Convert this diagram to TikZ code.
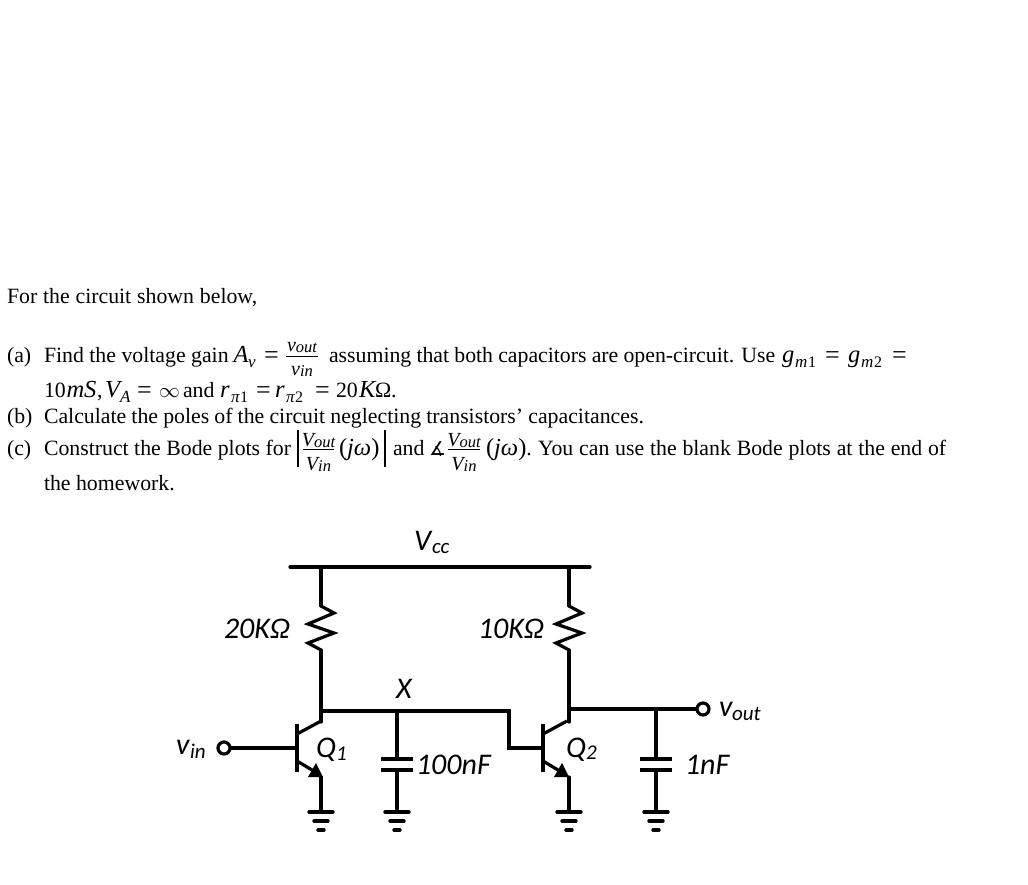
\documentclass[tikz,border=0pt]{standalone}
\usepackage{fontspec}
\setmainfont{Liberation Serif}
\newfontfamily\lab{Carlito}
\newfontfamily\sym{DejaVu Sans}
\newcommand{\fsub}[1]{\raisebox{-1.5pt}{\fontsize{16.5}{18}\selectfont #1}}
\tikzset{
  x=1pt,y=-1pt,
  wire/.style={line width=3.2pt,line cap=round,line join=miter,black},
  txt/.style={inner sep=0pt,outer sep=0pt,anchor=base west,text=black,font=\fontsize{21.8}{24}\selectfont},
  eqs/.style={txt,font=\fontsize{26}{28}\selectfont},
  mth/.style={txt,font=\fontsize{24.5}{26}\selectfont\itshape},
  subt/.style={txt,font=\fontsize{17}{18}\selectfont\itshape},
  subr/.style={txt,font=\fontsize{16}{18}\selectfont},
  fracm/.style={txt,anchor=base,font=\fontsize{20}{22}\selectfont\itshape},
  clab/.style={inner sep=0pt,outer sep=0pt,anchor=base west,text=black,font=\fontsize{30}{32}\selectfont\lab\itshape},
  csub/.style={clab,font=\fontsize{21}{23}\selectfont\lab\itshape},
  terminal/.style={circle,draw=black,line width=3.2pt,fill=white,minimum size=12pt,inner sep=0pt},
  zig/.pic={\draw[wire] (0,0)--(13,7)--(-13,18)--(13,27)--(-13,37)--(0,44);},
  gnd/.pic={\draw[line width=3.4pt,line cap=round,black] (-12,0)--(12,0) (-7,9)--(7,9) (-3,18)--(3,18);},
  bjt/.pic={
    \draw[line width=3.8pt,black] (0,-24)--(0,24);
    \draw[line width=3.2pt,black] (0,-14)--(24,-27);
    \draw[line width=3.2pt,black] (0,13)--(20,25);
    \fill[black] (11,29)--(26,29)--(19,15)--cycle;
  },
}
\begin{document}
\begin{tikzpicture}
\useasboundingbox (0,0) rectangle (1028,884);
% Text
\node[txt] (t0) at (7,303) {\spaceskip=5.85pt For the circuit shown below,};
\node[txt] (a0) at (7,362) {(a)};
\node[txt] (a1) at (44,362) {Find the voltage gain};
\node[mth] (a2) at (233.5,362) {A};
\node[subt] (a3) at (248,367) {v};
\node[eqs] (a4) at (264,363) {=};
\node[fracm] (a5) at (302,351) {v\fsub{out}};
\node[fracm] (a6) at (302,375) {v\fsub{in}};
\draw[line width=1pt] (286,356) -- (318,356);
\node[txt] (a7) at (329,362) {\spaceskip=5.15pt assuming that both capacitors are open-circuit. Use};
\node[mth] (a8) at (782,362) {g};
\node[subt] (a9) at (795,367) {m};
\node[subr] (a10) at (808,367) {1};
\node[eqs] (a11) at (825,363) {=};
\node[mth] (a12) at (848,362) {g};
\node[subt] (a13) at (861,367) {m};
\node[subr] (a14) at (874,367) {2};
\node[eqs] (a15) at (892,363) {=};
%
\node[txt] (b1) at (44,397) {10};
\node[mth] (b2) at (66.5,397) {mS};
\node[txt] (b3) at (97,397) {,};
\node[mth] (b4) at (105,397) {V};
\node[subt] (b5) at (120,402) {A};
\node[eqs] (b6) at (137,398) {=};
\node[txt] (b7) at (159,397) {$\infty$};
\node[txt] (b8) at (183,397) {and};
\node[mth] (b9) at (220,397) {r};
\node[subt] (b10) at (231,402) {π};
\node[subr] (b11) at (240,402) {1};
\node[eqs] (b12) at (256,398) {=};
\node[mth] (b13) at (275,397) {r};
\node[subt] (b14) at (286,402) {π};
\node[subr] (b15) at (295,402) {2};
\node[eqs] (b16) at (315,398) {=};
\node[txt] (b17) at (336,397) {20};
\node[mth] (b18) at (359,397) {K};
\node[txt] (b19) at (375,397) {Ω.};
%
\node[txt] (c0) at (7,423) {(b)};
\node[txt] (c1) at (44,423) {\spaceskip=5.15pt Calculate the poles of the circuit neglecting transistors’ capacitances.};
%
\node[txt] (d0) at (7,455) {(c)};
\node[txt] (d1) at (44,455) {Construct the Bode plots for};
\coordinate (ba1) at (298,430); \coordinate (ba2) at (298,467);
\draw[line width=1.2pt] (ba1)--(ba2);
\node[fracm] (d2) at (318.5,446) {V\fsub{out}};
\node[fracm] (d3) at (318.5,470) {V\fsub{in}};
\draw[line width=1pt] (303,449)--(334,449);
\node[txt,font=\fontsize{24.5}{26}\selectfont] (d4) at (339,455) {(\textit{jω})};
\coordinate (bb1) at (385,430); \coordinate (bb2) at (385,467);
\draw[line width=1.2pt] (bb1)--(bb2);
\node[txt] (d5) at (393,455) {and};
\node[txt,font=\fontsize{19}{20}\selectfont\sym] (d6) at (429,455) {∡};
\node[fracm] (d7) at (464,446) {V\fsub{out}};
\node[fracm] (d8) at (464,470) {V\fsub{in}};
\draw[line width=1pt] (448,449)--(480,449);
\node[txt,font=\fontsize{24.5}{26}\selectfont] (d9) at (486,455) {(\textit{jω})\fontsize{21.8}{24}\selectfont.};
\node[txt] (d10) at (538,455) {\spaceskip=5.8pt You can use the blank Bode plots at the end of};
\node[txt] (e1) at (44,490) {the homework.};
% Circuit coordinates
\coordinate (railL) at (290,567); \coordinate (railR) at (590,567);
\coordinate (r1t) at (321,567); \coordinate (r1a) at (321,606); \coordinate (r1b) at (321,650);
\coordinate (r2t) at (569,567); \coordinate (r2a) at (569,606); \coordinate (r2b) at (569,650);
\coordinate (c1) at (321,722); \coordinate (n1) at (321,711);
\coordinate (em1) at (321,777); \coordinate (g1) at (321,812);
\coordinate (cx) at (397,711); \coordinate (cxa) at (397,759); \coordinate (cxb) at (397,770); \coordinate (gx) at (397,812);
\coordinate (k1) at (509,711); \coordinate (k2) at (509,748); \coordinate (bs2) at (543,748); \coordinate (bs1) at (297,748);
\coordinate (c2) at (569,722); \coordinate (n2) at (569,709);
\coordinate (em2) at (569,777); \coordinate (g2) at (569,812);
\coordinate (co) at (656,709); \coordinate (coa) at (656,759); \coordinate (cob) at (656,770); \coordinate (go) at (656,812);
% wires
\draw[wire] (railL)--(railR);
\draw[wire] (r1t)--(r1a) (r1b)--(c1);
\draw[wire] (r2t)--(r2a) (r2b)--(c2);
\pic at (r1a) {zig};
\pic at (r2a) {zig};
\pic at (bs1) {bjt};
\pic at (bs2) {bjt};
\draw[wire] (n1)--(k1)--(k2)--(bs2);
\draw[wire] (em1)--(g1);
\draw[wire] (em2)--(g2);
\draw[wire] (cx)--(cxa) (cxb)--(gx);
\draw[wire] (co)--(coa) (cob)--(go);
\draw[line width=3.8pt] (381,759)--(413,759) (381,770)--(413,770);
\draw[line width=3.8pt] (640,759)--(672,759) (640,770)--(672,770);
\pic at (g1) {gnd};
\pic at (gx) {gnd};
\pic at (g2) {gnd};
\pic at (go) {gnd};
\node[terminal] (vi) at (224,748) {};
\node[terminal] (vo) at (703,709) {};
\draw[wire] (vi)--(bs1);
\draw[wire] (n2)--(vo);
% labels
\node[clab] (l1) at (414,550) {V};
\node[csub] (l2) at (432,553) {cc};
\node[clab] (l3) at (224,638) {20KΩ};
\node[clab] (l4) at (478,638) {10KΩ};
\node[clab] (l5) at (396,698) {X};
\node[clab] (l6) at (176,754) {v};
\node[csub] (l7) at (190,758) {in};
\node[clab] (l8) at (316,757) {Q};
\node[csub] (l9) at (336,760) {1};
\node[clab] (l10) at (566,757) {Q};
\node[csub] (l11) at (586,759) {2};
\node[clab] (l12) at (416,774) {100nF};
\node[clab] (l13) at (685,774) {1nF};
\node[clab] (l14) at (719,716) {v};
\node[csub] (l15) at (732,720) {out};
\end{tikzpicture}
\end{document}
